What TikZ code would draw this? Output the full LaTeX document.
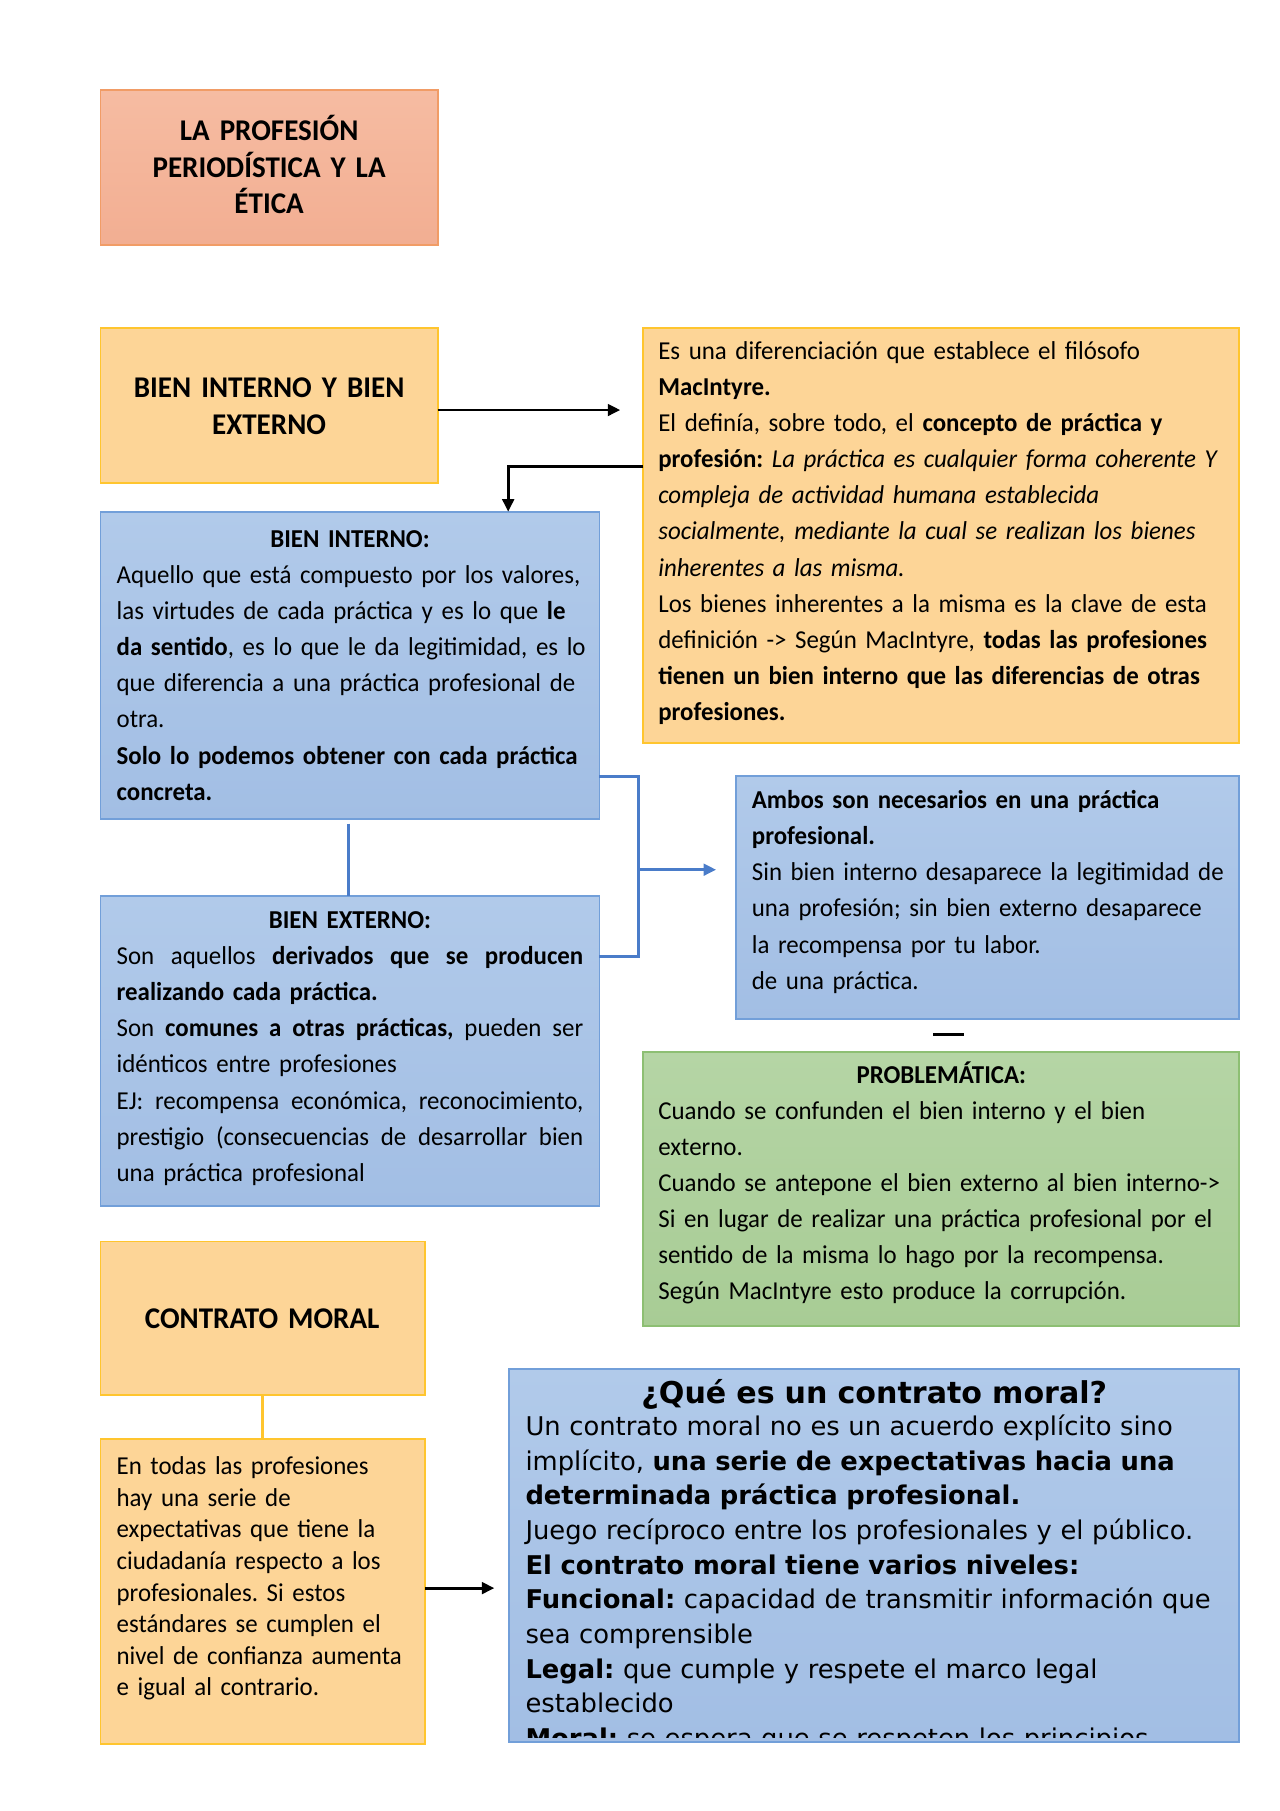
\documentclass[tikz,border=0pt]{standalone}
\usepackage{fontspec}
\setmainfont{Carlito}[FakeStretch=0.965]
\newfontfamily\dejavu{DejaVu Sans}
\usetikzlibrary{arrows.meta}
\definecolor{salfillA}{HTML}{F6BCA2}
\definecolor{salfillB}{HTML}{F2AE92}
\definecolor{salline}{HTML}{F19C66}
\definecolor{orfill}{HTML}{FDD597}
\definecolor{orline}{HTML}{FFC52E}
\definecolor{blfillA}{HTML}{B1CAEA}
\definecolor{blfillB}{HTML}{A2BEE4}
\definecolor{blline}{HTML}{729FD9}
\definecolor{blconn}{HTML}{4A7CC9}
\definecolor{grfillA}{HTML}{B5D5A5}
\definecolor{grfillB}{HTML}{A8CC95}
\definecolor{grline}{HTML}{8DBF73}
\newcommand\bodyfont{\fontsize{12pt}{16.82pt}\selectfont}
\newcommand\tightfont{\fontsize{12pt}{14.67pt}\selectfont}
\newcommand\quefont{\dejavu\fontsize{12pt}{16.12pt}\selectfont}
\newcommand\quetitle{\dejavu\bfseries\fontsize{14pt}{16pt}\selectfont}
\newcommand\jline[1]{\leavevmode\hbox to 217.07pt{#1}}
\begin{document}
\frenchspacing
\begin{tikzpicture}[x=0.5373pt,y=-0.5373pt,
  bw/.style 2 args={minimum width=#1*0.5373pt, minimum height=#2*0.5373pt},
  boxbase/.style={draw, anchor=north west, inner sep=0pt, outer sep=0pt, line width=0.8pt},
  salbox/.style={boxbase, top color=salfillA, bottom color=salfillB, draw=salline},
  orbox/.style={boxbase, fill=orfill, draw=orline},
  blbox/.style={boxbase, top color=blfillA, bottom color=blfillB, draw=blline},
  grbox/.style={boxbase, top color=grfillA, bottom color=grfillB, draw=grline},
  txt/.style={anchor=base west, inner sep=0pt, outer sep=0pt, align=left, text width=600*0.5373pt, font=\bodyfont},
  ctxt/.style={anchor=base, inner sep=0pt, outer sep=0pt, align=center, text width=400*0.5373pt, font=\bodyfont\bfseries},
  blk/.style={line width=1.35pt, black, -{Triangle[length=5.8pt,width=5.4pt]}},
  blc/.style={line width=1.35pt, blconn},
  bla/.style={blc, -{Triangle[length=5.8pt,width=5.4pt]}},
  orc/.style={line width=1.35pt, orline}
]
\useasboundingbox (0,0) rectangle (1108,1568);

% ---------- boxes ----------
\node[salbox, bw={292}{134}] (title) at (87,78) {};
\node[orbox, bw={292}{134}] (bib) at (87,284) {};
\node[orbox, bw={516}{359}] (desc) at (557,284) {};
\node[blbox, bw={432}{266}] (bi) at (87,443) {};
\node[blbox, bw={432}{268}] (be) at (87,776) {};
\node[blbox, bw={436}{210}] (amb) at (637,672) {};
\node[grbox, bw={516}{237}] (prob) at (557,911) {};
\node[orbox, bw={281}{133}] (cm) at (87,1075) {};
\node[orbox, bw={281}{264}] (et) at (87,1246) {};
\node[blbox, bw={632}{323}] (que) at (441,1185) {};

% ---------- texts ----------
\node[ctxt, font=\fontsize{14pt}{16.9pt}\selectfont\bfseries] (titlet) at (233,122)
  {LA PROFESIÓN\\PERIODÍSTICA Y LA\\ÉTICA};
\node[ctxt, font=\fontsize{14pt}{17.2pt}\selectfont\bfseries] (bibt) at (233,344)
  {BIEN INTERNO Y BIEN\\EXTERNO};

\node[txt] (desct) at (570,311) {Es una diferenciación que establece el filósofo\\
\textbf{MacIntyre.}\\
El definía, sobre todo, el \textbf{concepto de práctica y}\\
\textbf{profesión:} \textit{La práctica es cualquier forma coherente Y}\\
\textit{compleja de actividad humana establecida}\\
\textit{socialmente, mediante la cual se realizan los bienes}\\
\textit{inherentes a las misma.}\\
Los bienes inherentes a la misma es la clave de esta\\
definición -> Según MacIntyre, \textbf{todas las profesiones}\\
\textbf{tienen un bien interno que las diferencias de otras}\\
\textbf{profesiones.}};

\node[ctxt] (bih) at (303,474) {BIEN INTERNO:};
\node[txt] (bit) at (101,505) {Aquello que está compuesto por los valores,\\
las virtudes de cada práctica y es lo que \textbf{le}\\
\textbf{da sentido}, es lo que le da legitimidad, es lo\\
que diferencia a una práctica profesional de\\
otra.\\
\textbf{Solo lo podemos obtener con cada práctica}\\
\textbf{concreta.}};

\node[ctxt] (beh) at (303,804) {BIEN EXTERNO:};
\node[txt] (bet) at (101,835) {\jline{Son \hfill aquellos \hfill \textbf{derivados \hfill que \hfill se \hfill producen}}\\
\textbf{realizando cada práctica.}\\
\jline{Son \hfill \textbf{comunes \hfill a \hfill otras \hfill prácticas,} \hfill pueden \hfill ser}\\
idénticos entre profesiones\\
\jline{EJ: \hfill recompensa \hfill económica, \hfill reconocimiento,}\\
\jline{prestigio \hfill (consecuencias \hfill de \hfill desarrollar \hfill bien}\\
una práctica profesional};

\node[txt] (ambt) at (651,700) {\textbf{Ambos son necesarios en una práctica}\\
\textbf{profesional.}\\
Sin bien interno desaparece la legitimidad de\\
una profesión; sin bien externo desaparece\\
la recompensa por tu labor.\\
de una práctica.};

\node[ctxt] (probh) at (815,938) {PROBLEMÁTICA:};
\node[txt] (probt) at (570,969) {Cuando se confunden el bien interno y el bien\\
externo.\\
Cuando se antepone el bien externo al bien interno->\\
Si en lugar de realizar una práctica profesional por el\\
sentido de la misma lo hago por la recompensa.\\
Según MacIntyre esto produce la corrupción.};

\node[ctxt, font=\fontsize{14pt}{17pt}\selectfont\bfseries] (cmt) at (227,1150) {CONTRATO MORAL};

\node[txt, font=\tightfont] (ett) at (101,1277) {En todas las profesiones\\
hay una serie de\\
expectativas que tiene la\\
ciudadanía respecto a los\\
profesionales. Si estos\\
estándares se cumplen el\\
nivel de confianza aumenta\\
e igual al contrario.};

\begin{scope}
\clip (442,1186) rectangle (1072,1504);
\node[ctxt, font=\quetitle, text width=620*0.5373pt] (queh) at (757,1215) {¿Qué es un contrato moral?};
\node[txt, font=\quefont] (quet) at (455,1243) {Un contrato moral no es un acuerdo explícito sino\\
implícito, \textbf{una serie de expectativas hacia una}\\
\textbf{determinada práctica profesional.}\\
Juego recíproco entre los profesionales y el público.\\
\textbf{El contrato moral tiene varios niveles:}\\
\textbf{Funcional:} capacidad de transmitir información que\\
sea comprensible\\
\textbf{Legal:} que cumple y respete el marco legal\\
establecido\\
\textbf{Moral:} se espera que se respeten los principios};
\end{scope}

% ---------- connectors ----------
\coordinate (a1) at (537,355);
\draw[blk] (bib.east |- a1) -- (a1);

\coordinate (c2) at (440,404);
\draw[blk] (desc.west |- c2) -- (c2) -- (bi.north -| c2);

\coordinate (j1) at (553,672);
\coordinate (j2) at (553,828);
\coordinate (j3) at (620,753);
\draw[blc] (bi.east |- j1) -- (j1) -- (j2) -- (be.east |- j2);
\draw[bla] (j1 |- j3) -- (j3);

\coordinate (v1) at (302,713);
\draw[blc] (v1) -- (be.north -| v1);

\coordinate (d1) at (808,896);
\coordinate (d2) at (835,896);
\draw[line width=1.4pt, black] (d1) -- (d2);

\draw[orc] (cm.south) -- (et.north);

\coordinate (a3) at (428,1375);
\draw[blk] (et.east |- a3) -- (a3);
\end{tikzpicture}
\end{document}
